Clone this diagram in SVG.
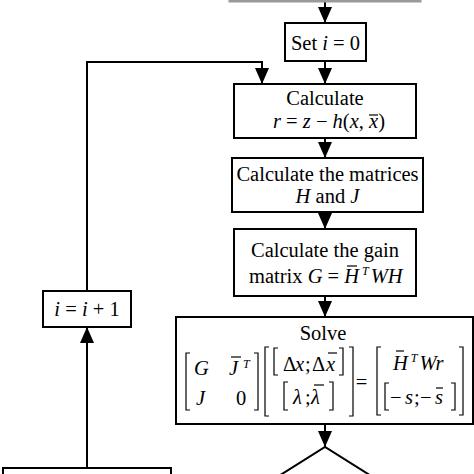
<svg xmlns="http://www.w3.org/2000/svg" width="474" height="474" viewBox="0 0 474 474">
<style>
.box{fill:#fff;stroke:#000;stroke-width:2}
.ln{fill:none;stroke:#000;stroke-width:2}
.br{fill:none;stroke:#000;stroke-width:1.2}
.bar{stroke:#000;stroke-width:1.2}
text{font-family:"Liberation Serif","Times New Roman",serif;font-size:20.5px;fill:#000}
.i{font-style:italic}
.sup{font-style:italic;font-size:12px}
</style>
<defs>
<marker id="ah" viewBox="0 0 16 14" refX="16" refY="7" markerWidth="16" markerHeight="14" markerUnits="userSpaceOnUse" orient="auto">
<path d="M0,0 L16,7 L0,14 z" fill="#000"/>
</marker>
</defs>
<g id="connectors">
<line class="ln" x1="325" y1="2" x2="325" y2="23" marker-end="url(#ah)"/>
<line class="ln" x1="325" y1="61" x2="325" y2="84" marker-end="url(#ah)"/>
<line class="ln" x1="325" y1="138" x2="325" y2="158" marker-end="url(#ah)"/>
<line class="ln" x1="325" y1="212" x2="325" y2="229" marker-end="url(#ah)"/>
<line class="ln" x1="325" y1="296" x2="325" y2="317" marker-end="url(#ah)"/>
<line class="ln" x1="325" y1="424" x2="325" y2="447" marker-end="url(#ah)"/>
<polyline class="ln" points="87,291 87,62 262,62 262,84" marker-end="url(#ah)"/>
<line class="ln" x1="87" y1="468" x2="87" y2="327" marker-end="url(#ah)"/>
</g>
<g id="top">
<rect x="230" y="-30" width="190" height="31" fill="#fff" stroke="#9a9a9a" stroke-width="3"/>
</g>
<g id="set">
<rect class="box" x="285" y="23" width="81" height="38"/>
<text x="325.5" y="50" text-anchor="middle">Set <tspan class="i">i</tspan> = 0</text>
</g>
<g id="calc-r">
<rect class="box" x="234" y="84" width="182" height="54"/>
<text x="325" y="105" text-anchor="middle">Calculate</text>
<text x="273" y="128"><tspan class="i">r</tspan> = <tspan class="i">z</tspan> − <tspan class="i">h</tspan>(<tspan class="i">x</tspan>, <tspan class="i">x</tspan>)</text>
<line class="bar" x1="369" y1="115" x2="378" y2="115"/>
</g>
<g id="calc-hj">
<rect class="box" x="232" y="158" width="191" height="54"/>
<text x="327.5" y="181" text-anchor="middle">Calculate the matrices</text>
<text x="327.5" y="203" text-anchor="middle"><tspan class="i">H</tspan> and <tspan class="i">J</tspan></text>
</g>
<g id="calc-g">
<rect class="box" x="234" y="229" width="182" height="67"/>
<text x="325" y="257" text-anchor="middle">Calculate the gain</text>
<text x="249" y="283">matrix <tspan class="i">G</tspan> = <tspan class="i">H</tspan><tspan class="sup" dx="3" dy="-8">T</tspan><tspan class="i" dx="2" dy="8">WH</tspan></text>
<line class="bar" x1="347" y1="266" x2="357" y2="266"/>
</g>
<g id="solve">
<rect class="box" x="176" y="317" width="297" height="107"/>
<text x="323" y="340" text-anchor="middle">Solve</text>
<path class="br" d="M190,353 H186 V410 H190"/>
<path class="br" d="M254,353 H258 V410 H254"/>
<text class="i" x="194" y="375">G</text>
<text class="i" x="229" y="375">J</text>
<line class="bar" x1="231" y1="357" x2="241" y2="357"/>
<text class="sup" x="243" y="368">T</text>
<text class="i" x="196" y="405">J</text>
<text x="236" y="405">0</text>
<path class="br" d="M269,347 H265 V416 H269"/>
<path class="br" d="M349,347 H353 V416 H349"/>
<path class="br" d="M278,348 H274 V375 H278"/>
<path class="br" d="M339,348 H343 V375 H339"/>
<text y="371"><tspan x="283">Δ</tspan><tspan class="i" x="295">x</tspan><tspan x="305">;</tspan><tspan x="312">Δ</tspan><tspan class="i" x="326">x</tspan></text>
<line class="bar" x1="328" y1="353" x2="337" y2="353"/>
<path class="br" d="M288,382 H284 V410 H288"/>
<path class="br" d="M329,382 H333 V410 H329"/>
<text y="404"><tspan class="i" x="293">λ</tspan><tspan x="305">;</tspan><tspan class="i" x="311">λ</tspan></text>
<line class="bar" x1="314" y1="385" x2="324" y2="385"/>
<text x="361.5" y="389" text-anchor="middle">=</text>
<path class="br" d="M381,347 H377 V415 H381"/>
<path class="br" d="M459,347 H463 V415 H459"/>
<text x="393" y="370"><tspan class="i">H</tspan><tspan class="sup" dx="3" dy="-8">T</tspan><tspan class="i" dx="2" dy="8">Wr</tspan></text>
<line class="bar" x1="396" y1="351" x2="404" y2="351"/>
<path class="br" d="M389,383 H385 V410 H389"/>
<path class="br" d="M451,383 H455 V410 H451"/>
<text y="404"><tspan x="390">−</tspan><tspan class="i" x="405">s</tspan><tspan x="414">;</tspan><tspan x="420">−</tspan><tspan class="i" x="435">s</tspan></text>
<line class="bar" x1="436" y1="388" x2="443" y2="388"/>
</g>
<g id="update">
<rect class="box" x="43" y="291" width="88" height="36"/>
<text x="87" y="316" text-anchor="middle"><tspan class="i">i</tspan> = <tspan class="i">i</tspan> + 1</text>
</g>
<g id="decision">
<path class="ln" d="M266,484 L325,447 L384,484"/>
</g>
<g id="bottom">
<rect class="box" x="3" y="468" width="168" height="20"/>
</g>
</svg>
